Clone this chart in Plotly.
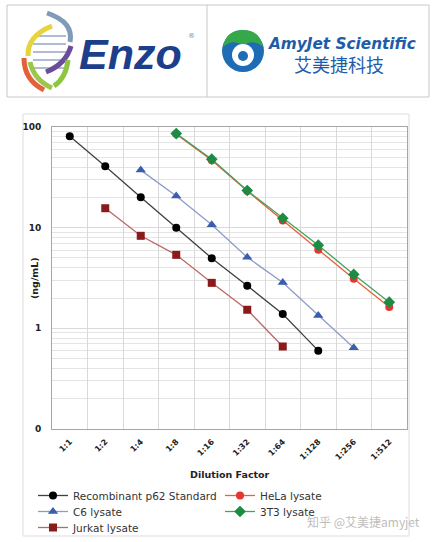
import plotly.graph_objects as go

# ---------------- data ----------------
categories = ["1:1", "1:2", "1:4", "1:8", "1:16", "1:32", "1:64", "1:128", "1:256", "1:512"]

recomb_x = ["1:1", "1:2", "1:4", "1:8", "1:16", "1:32", "1:64", "1:128"]
recomb_y = [81, 40.8, 20, 10, 4.98, 2.65, 1.39, 0.6]

hela_x = ["1:8", "1:16", "1:32", "1:64", "1:128", "1:256", "1:512"]
hela_y = [85, 46.8, 23.1, 11.8, 6.05, 3.1, 1.63]

c6_x = ["1:4", "1:8", "1:16", "1:32", "1:64", "1:128", "1:256"]
c6_y = [37.3, 20.6, 10.7, 5.07, 2.85, 1.34, 0.64]

t3_x = ["1:8", "1:16", "1:32", "1:64", "1:128", "1:256", "1:512"]
t3_y = [86, 47.9, 23.4, 12.4, 6.7, 3.43, 1.82]

jurkat_x = ["1:2", "1:4", "1:8", "1:16", "1:32", "1:64"]
jurkat_y = [15.6, 8.3, 5.37, 2.83, 1.53, 0.66]

ytick_vals = [0.1, 1, 10, 100]
ytick_text = ["0", "1", "10", "100"]

# ---------------- layout helpers ----------------
W, H = 437, 542
L, R, T, B = 52, 407, 127, 429  # plot area in pixels


def px(x):
    return (x - L) / (R - L)


def py(y):
    return (B - y) / (B - T)


def pth(points, close=False):
    s = "M " + " ".join(
        ("%s " % p if isinstance(p, str) else "%.5f,%.5f " % (px(p[0]), py(p[1]))) for p in points
    )
    return s + ("Z" if close else "")


FONT = "DejaVu Sans"

fig = go.Figure()

series = [
    ("Recombinant p62 Standard", recomb_x, recomb_y, "#000000", "#404040", "circle", 8, "legend"),
    ("HeLa lysate", hela_x, hela_y, "#E8352E", "#E8603A", "circle", 8, "legend"),
    ("C6 lysate", c6_x, c6_y, "#3A5DAE", "#8C9CC8", "triangle-up", 9, "legend2"),
    ("3T3 lysate", t3_x, t3_y, "#1E8B45", "#45A060", "diamond", 9, "legend2"),
    ("Jurkat lysate", jurkat_x, jurkat_y, "#8B1A1A", "#B86A66", "square", 8, "legend3"),
]
for name, xs, ys, mc, lc, sym, sz, lg in series:
    fig.add_trace(go.Scatter(
        x=xs, y=ys, name=name, mode="lines+markers", legend=lg,
        line=dict(color=lc, width=1.3),
        marker=dict(color=mc, symbol=sym, size=sz, line=dict(width=0)),
    ))

shapes = []
# header box
shapes.append(dict(type="rect", xref="paper", yref="paper", x0=px(7), x1=px(429), y0=py(97), y1=py(5),
                   line=dict(color="#C8C8C8", width=1)))
shapes.append(dict(type="line", xref="paper", yref="paper", x0=px(207), x1=px(207), y0=py(97), y1=py(5),
                   line=dict(color="#C8C8C8", width=1)))
# chart frame
shapes.append(dict(type="rect", xref="paper", yref="paper", x0=px(23), x1=px(409), y0=py(536), y1=py(114),
                   line=dict(color="#DDDDDD", width=1), layer="below"))

# Enzo helix (decorative)
for yy in [36, 44, 52, 60, 68]:
    shapes.append(dict(type="line", xref="paper", yref="paper", x0=px(33), x1=px(66), y0=py(yy), y1=py(yy),
                       line=dict(color="#AEBBD0", width=2)))
helix = [
    ([(47, 13), "Q", (74, 22), (70, 42)], "#7E9CB8"),
    ([(52, 26), "Q", (27, 36), (28, 56)], "#E5D43B"),
    ([(24, 58), "Q", (24, 80), (44, 90)], "#E2623C"),
    ([(30, 62), "Q", (34, 80), (52, 88)], "#9BC74A"),
    ([(71, 46), "Q", (66, 64), (46, 72)], "#6B4C9A"),
    ([(68, 60), "Q", (66, 78), (54, 86)], "#8CC63F"),
]
for pts, col in helix:
    shapes.append(dict(type="path", xref="paper", yref="paper", path=pth(pts),
                       line=dict(color=col, width=5)))

# AmyJet icon (decorative)
shapes.append(dict(type="circle", xref="paper", yref="paper", x0=px(222), x1=px(264), y0=py(72), y1=py(30),
                   fillcolor="#1E6CB5", line=dict(width=0)))
shapes.append(dict(type="path", xref="paper", yref="paper",
                   path=pth([(223, 47), "Q", (226, 30), (243, 30), "Q", (260, 30), (263, 47),
                             "Q", (253, 38), (243, 46), "Q", (233, 38), (223, 47)], close=True),
                   fillcolor="#35A94A", line=dict(width=0)))
shapes.append(dict(type="circle", xref="paper", yref="paper", x0=px(232), x1=px(254), y0=py(66), y1=py(44),
                   fillcolor="#FFFFFF", line=dict(width=0)))
shapes.append(dict(type="circle", xref="paper", yref="paper", x0=px(238), x1=px(248), y0=py(61), y1=py(51),
                   fillcolor="#1E6CB5", line=dict(width=0)))

annotations = [
    dict(text="<b><i>Enzo</i></b>", x=px(77), y=py(54), xanchor="left", yanchor="middle",
         font=dict(family="Liberation Sans", size=43, color="#1C3F8C")),
    dict(text="®", x=px(186), y=py(36), xanchor="left", yanchor="middle",
         font=dict(family=FONT, size=7, color="#7A8AA8")),
    dict(text="<b><i>AmyJet Scientific</i></b>", x=px(266), y=py(44), xanchor="left", yanchor="middle",
         font=dict(family=FONT, size=15.3, color="#1E5CA8")),
    dict(text="艾美捷科技", x=px(292), y=py(64), xanchor="left", yanchor="middle",
         font=dict(family="Noto Sans CJK SC", size=18, color="#1E5CA8")),
    dict(text="<b>Dilution Factor</b>", x=px(230), y=py(474), xanchor="center", yanchor="middle",
         font=dict(family=FONT, size=9.5, color="#222222")),
    dict(text="<b>(ng/mL)</b>", x=px(34), y=py(278), xanchor="center", yanchor="middle", textangle=-90,
         font=dict(family=FONT, size=9.5, color="#222222")),
    dict(text="知乎 @艾美捷amyjet", x=px(363), y=py(521), xanchor="center", yanchor="middle",
         font=dict(family="Noto Sans CJK SC", size=12, color="#BDBDBD")),
]
for a in annotations:
    a.update(xref="paper", yref="paper", showarrow=False)


def legend_row(top_px):
    return dict(orientation="h", x=px(33), y=py(top_px), xanchor="left", yanchor="top",
                entrywidth=142, entrywidthmode="pixels", itemwidth=30, tracegroupgap=0,
                font=dict(family=FONT, size=10.5, color="#333333"), bgcolor="rgba(0,0,0,0)")


fig.update_layout(
    width=W, height=H,
    margin=dict(l=L, r=W - R, t=T, b=H - B, autoexpand=False),
    paper_bgcolor="white", plot_bgcolor="white",
    font=dict(family=FONT, color="#222222"),
    shapes=shapes, annotations=annotations,
    showlegend=True,
    legend=legend_row(481),
    legend2=legend_row(497),
    legend3=legend_row(513),
    xaxis=dict(type="category", categoryorder="array", categoryarray=categories,
               range=[-0.5, len(categories) - 0.5], tickson="boundaries",
               showgrid=True, gridcolor="#D9D9D9", gridwidth=1,
               showline=True, linecolor="#A6A6A6", mirror=True, ticks="",
               tickangle=-45, ticklabelstandoff=4,
               tickfont=dict(family=FONT, size=8, color="#222222", weight="bold"),
               zeroline=False, fixedrange=True),
    yaxis=dict(type="log", range=[-1, 2], tickmode="array", tickvals=ytick_vals, ticktext=ytick_text,
               showgrid=True, gridcolor="#D9D9D9", gridwidth=1,
               minor=dict(dtick="D1", showgrid=True, gridcolor="#E4E4E4", ticks=""),
               showline=True, linecolor="#A6A6A6", mirror=True, ticks="", ticklabelstandoff=8,
               tickfont=dict(family=FONT, size=9, color="#222222", weight="bold"),
               zeroline=False, fixedrange=True),
)

fig.write_html("out.html")
